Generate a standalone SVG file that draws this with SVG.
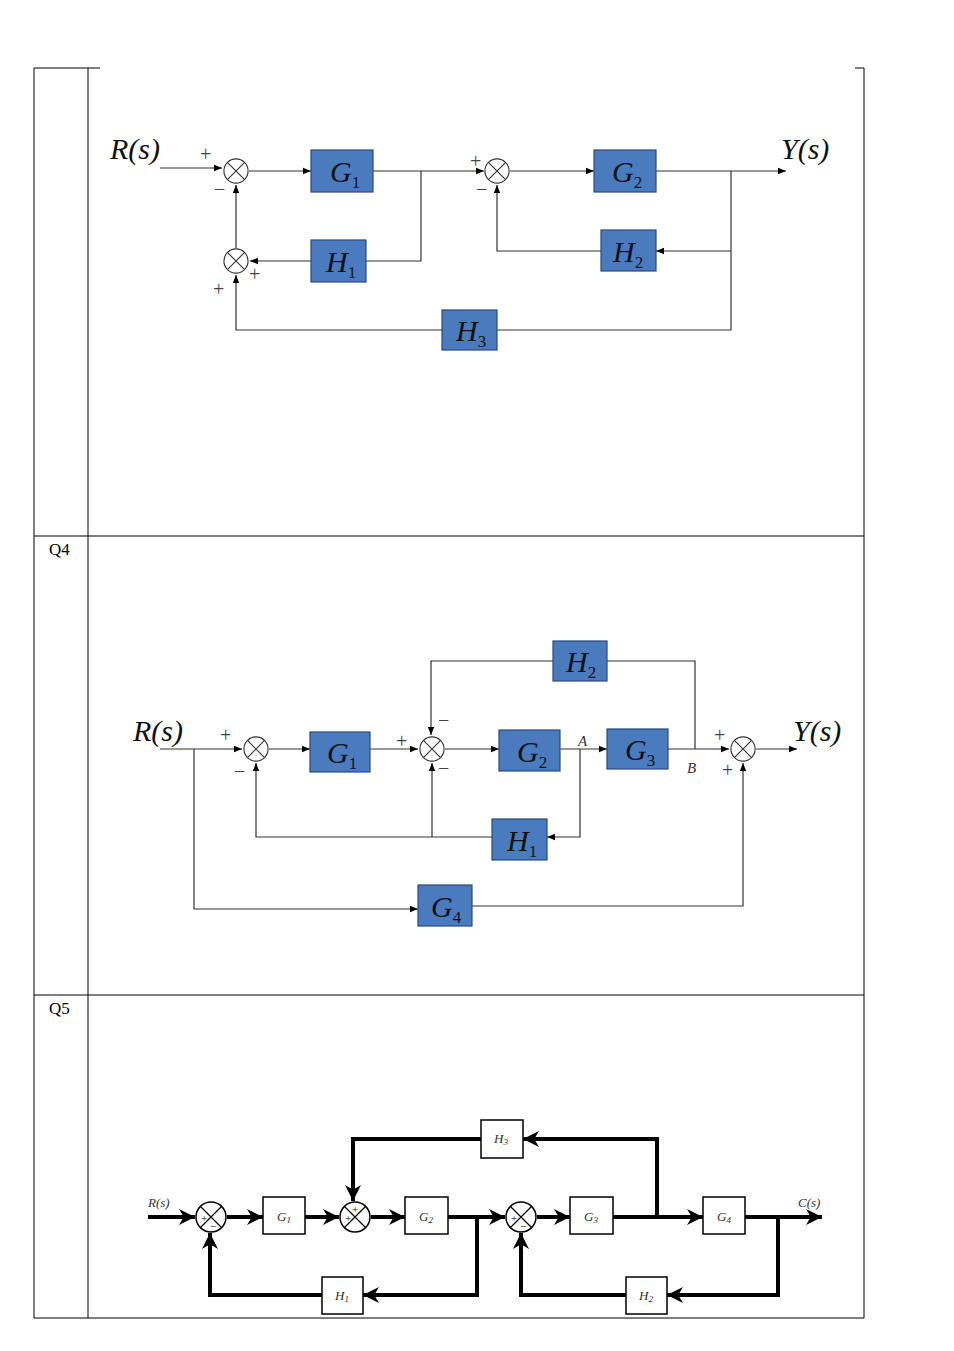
<svg xmlns="http://www.w3.org/2000/svg" width="954" height="1351" viewBox="0 0 954 1351">
<style>
.t{stroke:#000;stroke-width:1;fill:none}
.w{stroke:#333;stroke-width:1.2;fill:none}
.k{stroke:#000;stroke-width:4;fill:none}
.b{fill:#4a7bbf;stroke:#2a4a7a;stroke-width:1.2}
.s{fill:#fff;stroke:#333;stroke-width:1.2}
.bl{font-family:"Liberation Serif",serif;font-style:italic;font-size:30px;fill:#111}
.sub{font-size:17px;font-style:normal}
.sg{font-family:"Liberation Serif",serif;font-size:20px;fill:#444}
.lab{font-family:"Liberation Serif",serif;font-style:italic;font-size:30px;fill:#111}
.q{font-family:"Liberation Serif",serif;font-size:17px;fill:#000}
.wb{fill:#fff;stroke:#000;stroke-width:1.5}
.sm{font-family:"Liberation Serif",serif;font-style:italic;font-size:13px;fill:#333}
</style>
<defs>
<marker id="a" viewBox="0 0 10 10" refX="10" refY="5" markerWidth="8" markerHeight="8" markerUnits="userSpaceOnUse" orient="auto"><path d="M0,1 L10,5 L0,9 z" fill="#000"/></marker>
<marker id="ak" viewBox="0 0 10 10" refX="10" refY="5" markerWidth="5" markerHeight="4" orient="auto"><path d="M0,0 L10,5 L0,10 L3,5 z" fill="#000"/></marker>
<symbol id="x" viewBox="-14 -14 28 28" overflow="visible"><circle r="13" class="s"/><path d="M-9,-9 L9,9 M9,-9 L-9,9" stroke="#333" stroke-width="1.2"/></symbol>
</defs>
<rect width="954" height="1351" fill="#fff"/>
<g id="table" class="t">
<path d="M34,68 H100 M855,68 H864 M34,68 V1318 M88,68 V1318 M864,68 V1318 M34,536 H864 M34,995 H864 M34,1318 H864"/>
</g>
<text class="q" x="49" y="555">Q4</text>
<text class="q" x="49" y="1014">Q5</text>

<!-- Q1 -->
<g id="q1-connectors" class="w">
<path d="M160,168 H222" marker-end="url(#a)"/>
<path d="M249,171 H311" marker-end="url(#a)"/>
<path d="M373,171 H484" marker-end="url(#a)"/>
<path d="M421,171 V261 H366"/>
<path d="M311,261 H250" marker-end="url(#a)"/>
<path d="M236,248 V185" marker-end="url(#a)"/>
<path d="M510,171 H594" marker-end="url(#a)"/>
<path d="M656,171 H786" marker-end="url(#a)"/>
<path d="M731,171 V330 H497"/>
<path d="M442,330 H236 V275" marker-end="url(#a)"/>
<path d="M731,251 H656" marker-end="url(#a)"/>
<path d="M601,251 H497 V185" marker-end="url(#a)"/>
</g>
<g id="q1-nodes">
<use href="#x" x="223" y="158" width="26" height="26"/>
<use href="#x" x="223" y="248" width="26" height="26"/>
<use href="#x" x="484" y="158" width="26" height="26"/>
<g id="q1-G1"><rect class="b" x="311" y="150" width="62" height="42"/><text class="bl" x="330" y="182">G<tspan class="sub" dy="6">1</tspan></text></g>
<g id="q1-H1"><rect class="b" x="311" y="240" width="55" height="42"/><text class="bl" x="326" y="272">H<tspan class="sub" dy="6">1</tspan></text></g>
<g id="q1-G2"><rect class="b" x="594" y="150" width="62" height="42"/><text class="bl" x="612" y="182">G<tspan class="sub" dy="6">2</tspan></text></g>
<g id="q1-H2"><rect class="b" x="601" y="230" width="55" height="41"/><text class="bl" x="613" y="262">H<tspan class="sub" dy="6">2</tspan></text></g>
<g id="q1-H3"><rect class="b" x="442" y="310" width="55" height="40"/><text class="bl" x="456" y="341">H<tspan class="sub" dy="6">3</tspan></text></g>
<text class="lab" x="110" y="159">R(s)</text>
<text class="lab" x="781" y="159">Y(s)</text>
<text class="sg" x="200" y="161">+</text>
<text class="sg" x="214" y="196">−</text>
<text class="sg" x="249" y="281">+</text>
<text class="sg" x="213" y="296">+</text>
<text class="sg" x="470" y="168">+</text>
<text class="sg" x="476" y="196">−</text>
</g>

<!-- Q4 -->
<g id="q4-connectors" class="w">
<path d="M160,749 H242" marker-end="url(#a)"/>
<path d="M194,749 V909 H418" marker-end="url(#a)"/>
<path d="M269,749 H310" marker-end="url(#a)"/>
<path d="M370,749 H418" marker-end="url(#a)"/>
<path d="M445,749 H499" marker-end="url(#a)"/>
<path d="M560,749 H607" marker-end="url(#a)"/>
<path d="M668,749 H729" marker-end="url(#a)"/>
<path d="M756,749 H797" marker-end="url(#a)"/>
<path d="M553,661 H431 V735" marker-end="url(#a)"/>
<path d="M607,661 H695 V749"/>
<path d="M580,749 V837 H547" marker-end="url(#a)"/>
<path d="M492,837 H256 V763" marker-end="url(#a)"/>
<path d="M432,837 V763" marker-end="url(#a)"/>
<path d="M472,906 H743 V763" marker-end="url(#a)"/>
</g>
<g id="q4-nodes">
<use href="#x" x="243" y="736" width="26" height="26"/>
<use href="#x" x="419" y="736" width="26" height="26"/>
<use href="#x" x="730" y="736" width="26" height="26"/>
<g id="q4-G1"><rect class="b" x="310" y="732" width="60" height="40"/><text class="bl" x="327" y="763">G<tspan class="sub" dy="6">1</tspan></text></g>
<g id="q4-G2"><rect class="b" x="499" y="730" width="61" height="41"/><text class="bl" x="517" y="762">G<tspan class="sub" dy="6">2</tspan></text></g>
<g id="q4-G3"><rect class="b" x="607" y="729" width="61" height="40"/><text class="bl" x="625" y="760">G<tspan class="sub" dy="6">3</tspan></text></g>
<g id="q4-H2"><rect class="b" x="553" y="641" width="54" height="40"/><text class="bl" x="566" y="672">H<tspan class="sub" dy="6">2</tspan></text></g>
<g id="q4-H1"><rect class="b" x="492" y="819" width="55" height="41"/><text class="bl" x="507" y="851">H<tspan class="sub" dy="6">1</tspan></text></g>
<g id="q4-G4"><rect class="b" x="418" y="885" width="54" height="41"/><text class="bl" x="431" y="917">G<tspan class="sub" dy="6">4</tspan></text></g>
<text class="lab" x="133" y="741">R(s)</text>
<text class="lab" x="793" y="741">Y(s)</text>
<text class="sm" x="578" y="746" style="font-size:15px">A</text>
<text class="sm" x="687" y="773" style="font-size:15px">B</text>
<text class="sg" x="220" y="742">+</text>
<text class="sg" x="234" y="778">−</text>
<text class="sg" x="396" y="748">+</text>
<text class="sg" x="438" y="727">−</text>
<text class="sg" x="438" y="775">−</text>
<text class="sg" x="714" y="742">+</text>
<text class="sg" x="722" y="777">+</text>
</g>

<!-- Q5 -->
<g id="q5-connectors" class="k">
<path d="M148,1217 H195" marker-end="url(#ak)"/>
<path d="M227,1217 H263" marker-end="url(#ak)"/>
<path d="M305,1217 H339" marker-end="url(#ak)"/>
<path d="M371,1217 H405" marker-end="url(#ak)"/>
<path d="M448,1217 H505" marker-end="url(#ak)"/>
<path d="M477,1217 V1295 H363" marker-end="url(#ak)"/>
<path d="M322,1295 H210 V1233" marker-end="url(#ak)"/>
<path d="M537,1217 H570" marker-end="url(#ak)"/>
<path d="M613,1217 H703" marker-end="url(#ak)"/>
<path d="M657,1217 V1139 H523" marker-end="url(#ak)"/>
<path d="M481,1139 H353 V1201" marker-end="url(#ak)"/>
<path d="M745,1217 H822" marker-end="url(#ak)"/>
<path d="M778,1217 V1295 H667" marker-end="url(#ak)"/>
<path d="M626,1295 H521 V1233" marker-end="url(#ak)"/>
</g>
<g id="q5-nodes" font-family="Liberation Serif, serif">
<g id="q5-sum1"><circle cx="211" cy="1217" r="15" class="wb"/><path d="M200,1206 L222,1228 M222,1206 L200,1228" stroke="#000" stroke-width="1.2"/><text x="201" y="1222" font-size="11">+</text><text x="210" y="1230" font-size="11">−</text></g>
<g id="q5-sum2"><circle cx="355" cy="1217" r="15" class="wb"/><path d="M344,1206 L366,1228 M366,1206 L344,1228" stroke="#000" stroke-width="1.2"/><text x="345" y="1222" font-size="11">+</text><text x="352" y="1213" font-size="11">+</text></g>
<g id="q5-sum3"><circle cx="521" cy="1217" r="15" class="wb"/><path d="M510,1206 L532,1228 M532,1206 L510,1228" stroke="#000" stroke-width="1.2"/><text x="511" y="1222" font-size="11">+</text><text x="520" y="1230" font-size="11">−</text></g>
<g id="q5-G1"><rect class="wb" x="263" y="1197" width="42" height="37"/><text class="sm" x="277" y="1221">G<tspan font-size="9" dy="2">1</tspan></text></g>
<g id="q5-G2"><rect class="wb" x="405" y="1197" width="43" height="37"/><text class="sm" x="419" y="1221">G<tspan font-size="9" dy="2">2</tspan></text></g>
<g id="q5-G3"><rect class="wb" x="570" y="1197" width="43" height="37"/><text class="sm" x="584" y="1221">G<tspan font-size="9" dy="2">3</tspan></text></g>
<g id="q5-G4"><rect class="wb" x="703" y="1197" width="42" height="37"/><text class="sm" x="717" y="1221">G<tspan font-size="9" dy="2">4</tspan></text></g>
<g id="q5-H1"><rect class="wb" x="322" y="1277" width="41" height="37"/><text class="sm" x="335" y="1300">H<tspan font-size="9" dy="2">1</tspan></text></g>
<g id="q5-H2"><rect class="wb" x="626" y="1277" width="41" height="37"/><text class="sm" x="639" y="1300">H<tspan font-size="9" dy="2">2</tspan></text></g>
<g id="q5-H3"><rect class="wb" x="481" y="1120" width="42" height="38"/><text class="sm" x="494" y="1143">H<tspan font-size="9" dy="2">3</tspan></text></g>
<text class="sm" x="148" y="1207">R(s)</text>
<text class="sm" x="798" y="1207">C(s)</text>
</g>
</svg>
